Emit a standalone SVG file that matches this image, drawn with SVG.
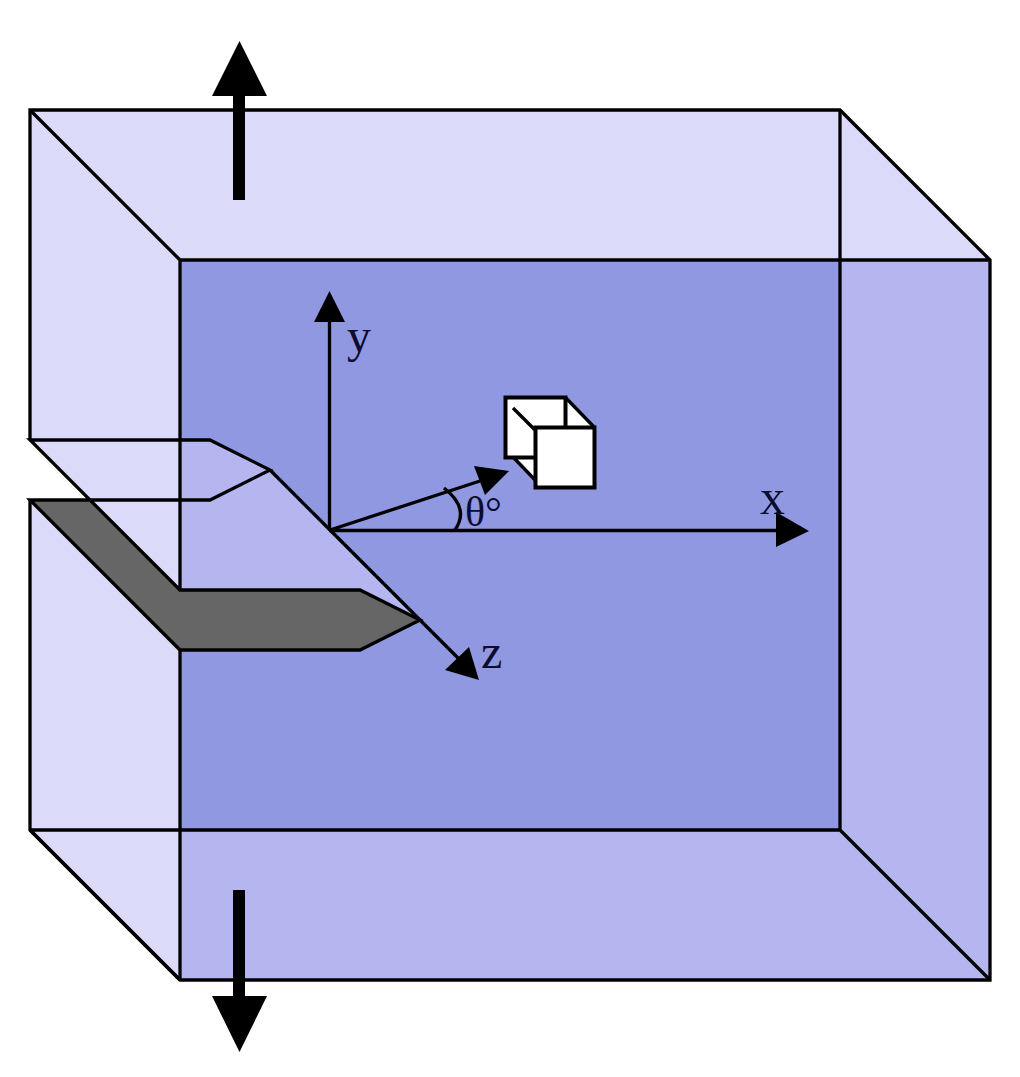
<svg xmlns="http://www.w3.org/2000/svg" width="1020" height="1077" viewBox="0 0 1020 1077">
<style>
.l{fill:#dcdaf9}.m{fill:#b5b5f0}.d{fill:#9098e2}
.e{fill:none;stroke:#000;stroke-width:3.300;stroke-linejoin:miter;stroke-linecap:butt}
.h{fill:#000}
.t{font-family:"Liberation Serif",serif;fill:#0c0c30}
</style>
<rect width="1020" height="1077" fill="#fff"/>
<g id="faces">
<polygon class="l" points="30,110 840,110 990,260 180,260"/>
<polygon class="l" points="30,110 180,260 180,440 30,440"/>
<polygon class="l" points="30,500 180,650 180,980 30,830"/>
<polygon class="l" points="30,440 180,440 180,590 90,500"/>
<polygon class="d" points="180,260 840,260 840,830 180,830"/>
<polygon class="m" points="840,260 990,260 990,980 840,830"/>
<polygon class="m" points="180,830 840,830 990,980 180,980"/>
<polygon class="m" points="180,440 210,440 270,470 420,620 360,590 180,590"/>
</g>
<g id="crack">
<polygon points="30,500 90,500 180,590 360,590 420,620 360,650 180,650" fill="#666"/>
<path class="e" d="M30,440H210L270,470L210,500H30L180,650H360L420,620L360,590H180L30,440Z"/>
</g>
<g id="connectors">
<path class="e" d="M30,440V110H840L990,260V980H180L30,830V500"/>
<path class="e" d="M30,110L180,260H990M840,110V830M30,830H840L990,980M30,830L180,980M180,260V590M180,650V980"/>
<path class="e" d="M270,470L330,530L466,666"/>
<path class="e" d="M329.500,530V318M329.500,530.500H780M330,530L480,481"/>
<path class="e" d="M444,488Q470,508 455,530"/>
<polygon class="h" points="314,322 345,322 329.500,291"/>
<polygon class="h" points="776,512 776,547 809,531"/>
<polygon class="h" points="479,680 445,670 469,647"/>
<polygon class="h" points="509,471 474,466 485,495"/>
<rect class="h" x="233" y="90" width="12" height="110"/>
<polygon class="h" points="212,96 267,96 239.500,41"/>
<rect class="h" x="233" y="890" width="12" height="110"/>
<polygon class="h" points="212,996 267,996 239.500,1052"/>
</g>
<g id="cube">
<polygon points="565,397 595,428 537,482 513,457" fill="#fff"/>
<rect x="505.500" y="397.500" width="60" height="60" fill="#fff" stroke="#000" stroke-width="4"/>
<path class="e" d="M513,408L537,432M565,397L595,428M513,457L537,482"/>
<rect x="535.500" y="427.500" width="59" height="60" fill="#fff" stroke="#000" stroke-width="4"/>
</g>
<g id="labels">
<text class="t" x="347" y="352" font-size="48">y</text>
<text class="t" x="760" y="514" font-size="50">x</text>
<text class="t" x="481" y="668" font-size="48">z</text>
<text class="t" x="465" y="526" font-size="42">θ°</text>
</g>
</svg>
